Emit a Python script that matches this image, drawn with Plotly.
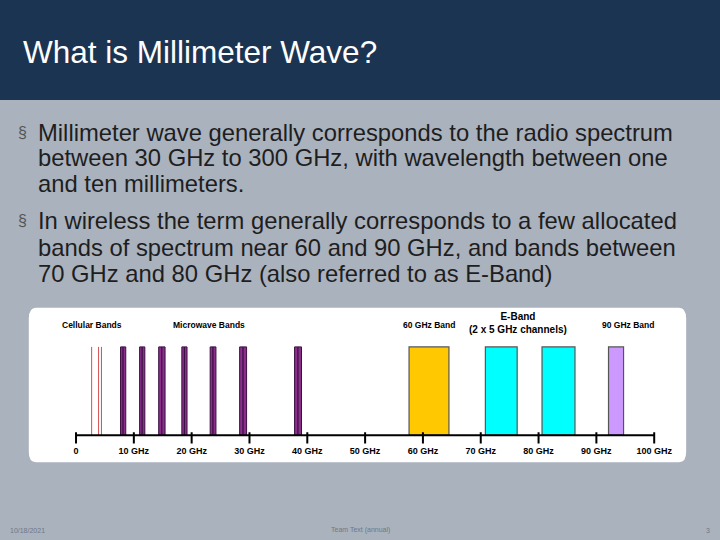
import plotly.graph_objects as go

# band data (GHz)
cell_lines = [2.7, 3.9, 4.4]
mw_start = [7.7, 11.0, 14.3, 18.3, 23.2, 28.3, 37.8]
mw_end = [8.6, 11.9, 15.4, 19.2, 24.2, 29.5, 39.0]
big_start = [57.6, 70.8, 80.6, 92.1]
big_end = [64.5, 76.3, 86.3, 94.7]
big_colors = ["#ffc800", "#00ffff", "#00ffff", "#cc99ff"]
tick_vals = [0, 10, 20, 30, 40, 50, 60, 70, 80, 90, 100]
tick_text = ["0", "10 GHz", "20 GHz", "30 GHz", "40 GHz", "50 GHz", "60 GHz", "70 GHz", "80 GHz", "90 GHz", "100 GHz"]

fig = go.Figure()

# microwave pairs, drawn as two thin halves
for s, e in zip(mw_start, mw_end):
    m = (s + e) / 2
    for a, b in [(s, m), (m, e)]:
        fig.add_trace(go.Bar(x=[(a + b) / 2], y=[1], width=[b - a], base=0,
                             marker=dict(color="#8b2f8b", line=dict(color="#3a1040", width=1)),
                             hoverinfo="skip"))
for s, e, c in zip(big_start, big_end, big_colors):
    fig.add_trace(go.Bar(x=[(s + e) / 2], y=[1], width=[e - s], base=0,
                         marker=dict(color=c, line=dict(color="#555555", width=1.2)),
                         hoverinfo="skip"))
for c in cell_lines:
    fig.add_trace(go.Scatter(x=[c, c], y=[0, 1], mode="lines",
                             line=dict(color="#cc2222", width=0.8), hoverinfo="skip"))

# axis line and ticks
fig.add_trace(go.Scatter(x=[tick_vals[0], tick_vals[-1]], y=[0, 0], mode="lines",
                         line=dict(color="black", width=2), hoverinfo="skip"))
fig.add_trace(go.Scatter(x=tick_vals, y=[-0.03] * len(tick_vals), mode="markers",
                         marker=dict(symbol="line-ns", size=8, line=dict(color="black", width=2)),
                         hoverinfo="skip"))
fig.add_trace(go.Scatter(x=tick_vals, y=[-0.19] * len(tick_vals), mode="text",
                         text=["<b>" + t + "</b>" for t in tick_text],
                         textfont=dict(family="Liberation Sans Narrow, Liberation Sans", size=9, color="black"),
                         hoverinfo="skip"))

band_labels = [(2.8, "Cellular Bands"), (23, "Microwave Bands"), (61, "60 GHz Band"), (95.5, "90 GHz Band")]
for xv, t in band_labels:
    fig.add_annotation(x=xv, y=1.25, text="<b>" + t + "</b>", showarrow=False, yanchor="middle",
                       font=dict(family="Liberation Sans Narrow, Liberation Sans", size=8.5, color="black"))
fig.add_annotation(x=76.5, y=1.27, text="<b>E-Band<br>(2 x 5 GHz channels)</b>", showarrow=False, yanchor="middle",
                   font=dict(family="Liberation Sans Narrow, Liberation Sans", size=10, color="black"))

shapes = [
    dict(type="rect", xref="paper", yref="paper", x0=0, x1=1, y0=1 - 100 / 540, y1=1,
         fillcolor="#1b3452", line=dict(width=0), layer="below"),
    dict(type="path", xref="paper", yref="paper", layer="below",
         path="M 0.05,0.43 L 0.943,0.43 Q 0.953,0.43 0.953,0.41 L 0.953,0.163 Q 0.953,0.144 0.943,0.144 "
              "L 0.05,0.144 Q 0.04,0.144 0.04,0.163 L 0.04,0.41 Q 0.04,0.43 0.05,0.43 Z",
         fillcolor="white", line=dict(width=0)),
]

ann = [
    dict(x=21 / 720, y=1 - 52 / 540, text="What is Millimeter Wave?", xanchor="left",
         font=dict(size=31.5, color="white")),
]
bullets = [
    (132, "Millimeter wave generally corresponds to the radio spectrum"),
    (157, "between 30 GHz to 300 GHz, with wavelength between one"),
    (183, "and ten millimeters."),
    (221, "In wireless the term generally corresponds to a few allocated"),
    (247, "bands of spectrum near 60 and 90 GHz, and bands between"),
    (273, "70 GHz and 80 GHz (also referred to as E-Band)"),
]
for yy, t in bullets:
    ann.append(dict(x=36 / 720, y=1 - yy / 540, text=t, xanchor="left",
                    font=dict(size=23.8, color="#1e1e1e")))
for yy in [132, 221]:
    ann.append(dict(x=16 / 720, y=1 - yy / 540, text="§", xanchor="left",
                    font=dict(size=16, color="#555555")))
ann += [
    dict(x=8 / 720, y=1 - 530 / 540, text="10/18/2021", xanchor="left", font=dict(size=7, color="#707884")),
    dict(x=0.5, y=1 - 530 / 540, text="Team Text (annual)", font=dict(size=7, color="#707884")),
    dict(x=712 / 720, y=1 - 530 / 540, text="3", xanchor="right", font=dict(size=7, color="#707884")),
]
for a in ann:
    a.update(xref="paper", yref="paper", showarrow=False, yanchor="middle",
             font=dict(family="Liberation Sans", **a["font"]))
    fig.add_annotation(**a)

fig.update_layout(
    width=720, height=540, margin=dict(l=0, r=0, t=0, b=0),
    paper_bgcolor="#aab2be", plot_bgcolor="rgba(0,0,0,0)",
    showlegend=False, barmode="overlay", shapes=shapes,
    xaxis=dict(domain=[30 / 720, 686 / 720], range=[-7.96, 105.5], visible=False, fixedrange=True),
    yaxis=dict(domain=[0.144, 0.430], range=[-0.307, 1.443], visible=False, fixedrange=True),
)
fig.write_html("out.html", config={"displayModeBar": False},
               post_script="document.body.style.margin='0';")
